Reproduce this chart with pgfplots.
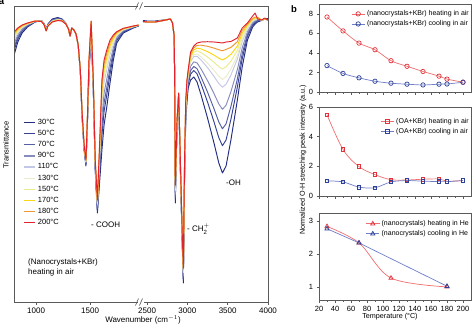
\documentclass[border=0pt]{standalone}
\usepackage{pgfplots}
\usepackage{pgfplotstable}
\pgfplotsset{compat=1.18}
\usepackage{fontspec}
\setmainfont{Liberation Sans}

\definecolor{tempA}{RGB}{35,45,130}
\definecolor{tempB}{RGB}{55,65,150}
\definecolor{tempC}{RGB}{85,95,165}
\definecolor{tempD}{RGB}{135,140,190}
\definecolor{tempE}{RGB}{195,200,230}
\definecolor{tempF}{RGB}{235,235,205}
\definecolor{tempG}{RGB}{235,235,140}
\definecolor{tempH}{RGB}{250,215,20}
\definecolor{tempI}{RGB}{240,150,50}
\definecolor{tempJ}{RGB}{225,35,45}
\definecolor{redline}{RGB}{240,110,110}
\definecolor{redmark}{RGB}{225,50,60}
\definecolor{blueline}{RGB}{110,125,200}
\definecolor{bluemark}{RGB}{45,65,150}
\definecolor{framecol}{RGB}{90,90,90}

\pgfplotstableread{
wn c30 c50 c70 c90 c110 c130 c150 c170 c180 c200
796 55 50.2 47.2 43.7 39.8 38.4 36.6 35 33.4 32
830 42 39.1 37.2 35.1 32.8 31.9 30.8 29.8 28.8 28
870 33 31.3 30.3 29.1 27.7 27.2 26.6 26 25.5 25
920 27 26.2 25.6 25 24.4 24.1 23.8 23.5 23.2 23
990 22 21.8 21.7 21.5 21.3 21.3 21.2 21.1 21.1 21
1050 20.5 20.7 20.8 21 21.2 21.2 21.3 21.4 21.4 21.5
1075 24 24.2 24.3 24.5 24.7 24.7 24.8 24.9 24.9 25
1093 29 29.4 29.7 30 30.3 30.4 30.6 30.7 30.9 31
1110 24 24.4 24.7 25 25.3 25.4 25.6 25.7 25.9 26
1150 19 19.6 20 20.5 21 21.2 21.4 21.6 21.8 22
1200 17.5 18.1 18.5 19 19.5 19.7 19.9 20.1 20.3 20.5
1240 19 19.4 19.7 20 20.3 20.4 20.6 20.7 20.9 21
1275 23 23.2 23.3 23.5 23.7 23.7 23.8 23.9 23.9 24
1300 29 29 29 29 29 29 29 29 29 29
1315 36 36 36 36 36 36 36 36 36 36
1330 28 28 28 28 28 28 28 28 28 28
1350 30 30 30 30 30 30 30 30 30 30
1370 34 34 34 34 34 34 34 34 34 34
1390 45 45 45 45 45 45 45 45 45 45
1410 72 71.6 71.3 71 70.7 70.6 70.4 70.3 70.1 70
1425 115 114 113.3 112.6 111.7 111.4 111 110.7 110.3 110
1445 150 149 148.3 147.6 146.7 146.4 146 145.7 145.3 145
1462 166 164.7 164 163.1 162 161.7 161.2 160.8 160.4 160
1475 125 124 123.3 122.6 121.7 121.4 121 120.7 120.3 120
1490 75 71.9 69.9 67.7 65.1 64.2 63 62 60.9 60
1510 30 28.1 26.9 25.6 24.1 23.5 22.8 22.2 21.5 21
1530 90 87.9 86.6 85.1 83.4 82.8 82 81.3 80.6 80
1548 170 167.9 166.6 165.1 163.4 162.8 162 161.3 160.6 160
1568 213 210.3 208.6 206.6 204.4 203.6 202.6 201.7 200.8 200
1590 180 171.6 166.4 160.4 153.6 151.2 148 145.2 142.4 140
1610 150 135.3 126.2 115.7 103.8 99.6 94 89.1 84.2 80
1630 125 111.4 102.9 93.2 82.1 78.2 73 68.5 63.9 60
1655 107 95 87.6 79.1 69.4 66 61.4 57.4 53.4 50
1685 83 74 68.4 61.9 54.6 52 48.6 45.6 42.6 40
1716 60 54.8 51.5 47.8 43.5 42 40 38.3 36.5 35
1747 43 40.6 39.2 37.5 35.5 34.9 34 33.2 32.4 31.7
1808 33 32 31.4 30.7 29.9 29.6 29.2 28.9 28.6 28.3
1901 28 27.6 27.3 27 26.7 26.6 26.4 26.3 26.1 26
1950 26 25.8 25.7 25.5 25.3 25.3 25.2 25.1 25.1 25
}\leftdata

\pgfplotstableread{
wn c30 c50 c70 c90 c110 c130 c150 c170 c180 c200
2450 20.5 21.5 21.5 21.5 21.5 21.5 21.5 21.5 21.5 21.5
2500 21 22 22 22 22 22 22 22 22 22
2600 21 22 22 22 22 22 22 22 22 22
2700 20 20.5 20.5 20.5 20.5 20.5 20.5 20.5 20.5 20.5
2790 19 19 19 19 19 19 19 19 19 19
2815 23 23 23 23 23 23 23 23 23 23
2835 35 35 35 35 35 35 35 35 35 35
2842 75 74 73.3 72.6 71.7 71.4 71 70.7 70.3 70
2850 203 199.2 196.9 194.2 191.1 190 188.6 187.3 186.1 185
2872 125 124 123.3 122.6 121.7 121.4 121 120.7 120.3 120
2892 95 94.6 94.3 94 93.7 93.6 93.4 93.3 93.1 93
2910 160 157.9 156.6 155.1 153.4 152.8 152 151.3 150.6 150
2935 240 237.9 236.6 235.1 233.4 232.8 232 231.3 230.6 230
2950 283 279.9 277.9 275.7 273.1 272.2 271 270 268.9 268
2965 180 175.8 173.2 170.2 166.8 165.6 164 162.6 161.2 160
2980 120 115.8 113.2 110.2 106.8 105.6 104 102.6 101.2 100
2995 102 97.4 94.5 91.2 87.5 86.2 84.4 82.9 81.3 80
3010 88 84.2 81.9 79.2 76.1 75 73.6 72.3 71.1 70
3040 80 74.1 70.5 66.3 61.5 59.8 57.6 55.6 53.7 52
3080 77 70.5 66.5 61.8 56.5 54.7 52.2 50 47.9 46
3120 82 73.8 68.7 62.9 56.3 53.9 50.8 48.1 45.3 43
3170 95 83.9 77 69 60 56.8 52.6 48.9 45.2 42
3250 118 102 92.1 80.6 67.6 63.1 57 51.6 46.3 41.7
3330 143 121.8 108.7 93.5 76.3 70.3 62.2 55.1 48.1 42
3390 163 137.7 122 104 83.5 76.2 66.6 58.2 49.7 42.5
3435 173 145.7 128.8 109.3 87.2 79.4 69 59.9 50.8 43
3480 166 140 123.8 105.2 84.2 76.7 66.8 58.1 49.4 42
3540 140 119.3 106.5 91.7 75 69.1 61.2 54.3 47.4 41.5
3620 100 87 78.9 69.6 59.1 55.4 50.4 46.1 41.7 38
3680 67 58.8 53.7 47.9 41.3 38.9 35.8 33.1 30.3 28
3745 40 36.4 34.2 31.7 28.8 27.8 26.4 25.2 24 23
3810 27 25.1 23.9 22.6 21.1 20.5 19.8 19.2 18.5 16
3840 24 23 22 21 20 19.5 19 18 17 13
3870 22 21 20.3 19.6 18.7 18.4 18 17.7 17.3 19
3920 20.5 20 20 20 20 20 20 20 20 20
3960 19 19 19 19 19 19 19 19 19 18
4000 18.5 20 20 20 20 20 20 20 20 20
}\rightdata

\pgfplotsset{
  specstyle/.style={scale only axis, height=296pt, ymin=6, ymax=302, y dir=reverse,
    ytick=\empty, xtick pos=left, tick align=outside, axis line style={draw=none},
    major tick length=2.5pt, tick style={framecol, line width=0.5pt},
    tick label style={font=\fontsize{8}{9}\selectfont},
    /pgf/number format/1000 sep={}, /pgf/number format/assume math mode=true,
    scaled x ticks=false, line join=round,
    every axis plot/.append style={line width=0.95pt}},
  rstyle/.style={scale only axis, width=152pt, xmin=20, xmax=210,
    xtick={20,40,...,200}, minor x tick num=1, xtick pos=left, ytick pos=left,
    tick align=outside, axis line style={framecol, line width=0.6pt},
    tick style={framecol, line width=0.5pt}, major tick length=2.5pt, minor tick length=1.5pt,
    tick label style={font=\fontsize{7.5}{8}\selectfont},
    /pgf/number format/assume math mode=true,
    legend cell align=left,
    legend style={draw=none, fill=none, font=\fontsize{7}{8}\selectfont, inner sep=0pt, row sep=-0.5pt, anchor=north east},
    legend image code/.code={\draw[mark repeat=2,mark phase=2,##1] plot coordinates {(0pt,0pt) (6.5pt,0pt) (13pt,0pt)};}},
  redc/.style={smooth, tension=0.55, color=redline, line width=0.7pt, mark=o, mark size=2.2pt, mark options={draw=redmark, fill=white, solid, line width=0.7pt}},
  bluec/.style={smooth, tension=0.55, color=blueline, line width=0.7pt, mark=o, mark size=2.2pt, mark options={draw=bluemark, fill=white, solid, line width=0.7pt}},
}

\begin{document}
\begin{tikzpicture}
\useasboundingbox (0pt,0pt) rectangle (474pt,325pt);

% ---------- panel a, left segment ----------
\begin{axis}[specstyle, at={(14pt,23pt)}, anchor=south west, width=126pt,
  xmin=795, xmax=1963, xtick={1000,1500},
  legend cell align=left,
  legend style={at={(0.075,0.625)}, anchor=north west, draw=none, fill=none,
    font=\fontsize{7.5}{8}\selectfont, inner sep=0pt, row sep=0.4pt},
  legend image code/.code={\draw[#1, line width=1.3pt] (0pt,0pt) -- (11pt,0pt);}]
\addplot[tempA] table[x=wn, y=c30] {\leftdata};
\addplot[tempB] table[x=wn, y=c50] {\leftdata};
\addplot[tempC] table[x=wn, y=c70] {\leftdata};
\addplot[tempD] table[x=wn, y=c90] {\leftdata};
\addplot[tempE] table[x=wn, y=c110] {\leftdata};
\addplot[tempF] table[x=wn, y=c130] {\leftdata};
\addplot[tempG] table[x=wn, y=c150] {\leftdata};
\addplot[tempH] table[x=wn, y=c170] {\leftdata};
\addplot[tempI] table[x=wn, y=c180] {\leftdata};
\addplot[tempJ] table[x=wn, y=c200] {\leftdata};
\legend{30°C,50°C,70°C,90°C,110°C,130°C,150°C,170°C,180°C,200°C}
\end{axis}

% ---------- panel a, right segment ----------
\begin{axis}[specstyle, at={(140pt,23pt)}, anchor=south west, width=128pt,
  xmin=2412.5, xmax=4000, xtick={2500,3000,3500,4000}]
\addplot[tempA] table[x=wn, y=c30] {\rightdata};
\addplot[tempB] table[x=wn, y=c50] {\rightdata};
\addplot[tempC] table[x=wn, y=c70] {\rightdata};
\addplot[tempD] table[x=wn, y=c90] {\rightdata};
\addplot[tempE] table[x=wn, y=c110] {\rightdata};
\addplot[tempF] table[x=wn, y=c130] {\rightdata};
\addplot[tempG] table[x=wn, y=c150] {\rightdata};
\addplot[tempH] table[x=wn, y=c170] {\rightdata};
\addplot[tempI] table[x=wn, y=c180] {\rightdata};
\addplot[tempJ] table[x=wn, y=c200] {\rightdata};
\end{axis}

% frame of panel a with axis break
\draw[framecol, line width=0.7pt] (14pt,23pt) rectangle (268pt,319pt);
\fill[white] (137.5pt,320.5pt) rectangle (143.5pt,317.5pt);
\fill[white] (137.5pt,24.5pt) rectangle (143.5pt,21.5pt);
\draw[framecol, line width=0.6pt] (135.5pt,315.5pt) -- (138.5pt,322.5pt) (139.5pt,315.5pt) -- (142.5pt,322.5pt);
\draw[framecol, line width=0.6pt] (135.5pt,19.5pt) -- (138.5pt,26.5pt) (139.5pt,19.5pt) -- (142.5pt,26.5pt);

\node[font=\fontsize{8}{9}\selectfont, anchor=west, inner sep=0pt] at (91pt,100pt) {- COOH};
\node[font=\fontsize{8}{9}\selectfont, anchor=west, inner sep=0pt] at (187pt,96pt) {- CH$_{\mathrm{2}}^{\mathrm{+}}$};
\node[font=\fontsize{8}{9}\selectfont, anchor=west, inner sep=0pt] at (226pt,142pt) {-OH};
\node[font=\fontsize{8}{9}\selectfont, anchor=west, inner sep=0pt] at (28pt,63pt) {(Nanocrystals+KBr)};
\node[font=\fontsize{8}{9}\selectfont, anchor=west, inner sep=0pt] at (28pt,53pt) {heating in air};
\node[font=\fontsize{7.5}{8}\selectfont, rotate=90, inner sep=0pt] at (6pt,180pt) {Transmittance};
\node[font=\fontsize{8}{9}\selectfont, inner sep=0pt] at (143pt,5pt) {Wavenumber (cm$^{-1}$)};
\node[font=\bfseries\fontsize{10}{11}\selectfont, anchor=north west, inner sep=0pt] at (-1.5pt,326pt) {a};
\node[font=\bfseries\fontsize{9.5}{11}\selectfont, inner sep=0pt] at (294pt,316pt) {b};

% ---------- panel b ----------
\begin{axis}[rstyle, at={(319pt,233pt)}, anchor=south west, height=88pt,
  ymin=0, ymax=9, ytick={0,2,4,6,8}, xticklabels=\empty,
  legend style={at={(1,0.95)}}]
\addplot[redc] coordinates {(30,7.67)(50,6.25)(70,5.0)(90,4.32)(110,3.2)(130,2.63)(150,2.1)(170,1.62)(180,1.32)(200,1.0)};
\addplot[bluec] coordinates {(30,2.7)(50,1.9)(70,1.45)(90,1.1)(110,0.9)(130,0.8)(150,0.72)(170,0.8)(180,0.82)(200,1.0)};
\legend{(nanocrystals+KBr) heating in air,(nanocrystals+KBr) cooling in air}
\end{axis}

\begin{axis}[rstyle, at={(319pt,129pt)}, anchor=south west, height=89pt,
  ymin=0, ymax=6, ytick={0,2,4,6}, xticklabels=\empty,
  legend style={at={(1,0.9)}}]
\addplot[redc, mark=square, mark size=1.8pt] coordinates {(30,5.48)(50,3.14)(70,1.98)(90,1.44)(110,1.1)(130,1.08)(150,1.13)(170,1.15)(180,1.0)(200,1.04)};
\addplot[bluec, mark=square, mark size=1.8pt] coordinates {(30,1.02)(50,0.95)(70,0.6)(90,0.56)(110,0.95)(130,1.04)(150,1.0)(170,0.97)(180,0.97)(200,1.04)};
\legend{(OA+KBr) heating in air,(OA+KBr) cooling in air}
\end{axis}

\begin{axis}[rstyle, at={(319pt,25pt)}, anchor=south west, height=87pt,
  ymin=0.6, ymax=3.25, ytick={1,2,3},
  legend style={at={(1,0.94)}}]
\addplot[redc, mark=triangle, mark size=2.4pt, mark options={draw=redmark, fill=redline!50, solid}] coordinates {(30,2.84)(70,2.34)(110,1.27)(180,1.0)};
\addplot[color=blueline, line width=0.7pt, mark=triangle, mark size=2.4pt, mark options={draw=bluemark, fill=blueline!40, solid, line width=0.7pt}] coordinates {(30,2.77)(70,2.34)(180,1.02)};
\legend{(nanocrystals) heating in He,(nanocrystals) cooling in He}
\end{axis}

\node[font=\fontsize{7.2}{8}\selectfont, rotate=90, inner sep=0pt] at (303pt,165pt) {Normalized O-H stretching peak intensity (a.u.)};
\node[font=\fontsize{7.2}{8}\selectfont, inner sep=0pt] at (390pt,8pt) {Temperature (°C)};
\end{tikzpicture}
\end{document}
